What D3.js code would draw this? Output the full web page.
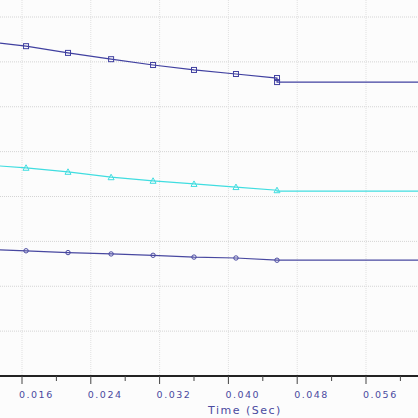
<!DOCTYPE html><html><head><script src="https://cdn.jsdelivr.net/npm/d3@7"></script>
<style>body{margin:0;background:#fcfcfc}</style></head><body><svg width="418" height="418"></svg><script>
const times=[0.01344,0.01647,0.02135,0.02636,0.03124,0.03600,0.04088,0.04565,0.04566,0.0625];
const squareVals=[7.42,7.35,7.20,7.06,6.93,6.82,6.73,6.64,6.55,6.55];
const triangleVals=[4.68,4.64,4.55,4.43,4.35,4.28,4.21,4.14,4.12,4.12];
const circleVals=[2.81,2.79,2.75,2.72,2.69,2.65,2.63,2.58,2.58,2.58];
const tickLabels=["0.016","0.024","0.032","0.040","0.048","0.056"];
const svg=d3.select("svg");
const x=d3.scaleLinear().domain([0.016,0.056]).range([22,366]);
const y=d3.scaleLinear().domain([0,8]).range([376,17]);
svg.append("rect").attr("width",418).attr("height",418).attr("fill","#fcfcfc");
const g=svg.append("g");
d3.range(1,9).forEach(v=>g.append("line").attr("x1",0).attr("x2",418).attr("y1",y(v)).attr("y2",y(v)).attr("stroke","#d4d4d4").attr("stroke-dasharray","1,1"));
tickLabels.forEach(l=>g.append("line").attr("x1",x(+l)).attr("x2",x(+l)).attr("y1",0).attr("y2",376).attr("stroke","#e0e0e0").attr("stroke-dasharray","1,1"));
const allTicks=d3.range(0.012,0.0621,0.004);
const ax=svg.append("g").attr("transform","translate(0,376)");
ax.append("line").attr("x1",0).attr("x2",418).attr("stroke","#222").attr("stroke-width",2);
allTicks.forEach(t=>ax.append("line").attr("x1",x(t)).attr("x2",x(t)).attr("y1",0).attr("y2",tickLabels.includes(t.toFixed(3))?8:5).attr("stroke","#444"));
tickLabels.forEach(l=>ax.append("text").attr("x",x(+l)-3).attr("y",22).attr("font-family","DejaVu Sans").attr("font-size",9.5).attr("fill","#4a4aa0").attr("letter-spacing","1.5").text(l));
svg.append("text").attr("x",208).attr("y",414).attr("font-family","DejaVu Sans").attr("font-size",11).attr("fill","#4a4aa0").attr("letter-spacing","1.5").text("Time (Sec)");
const line=d3.line().x((d,i)=>x(times[i])).y(d=>y(d));
const series=[[squareVals,"#4040a0","s"],[triangleVals,"#40dde0","t"],[circleVals,"#4848a0","c"]];
series.forEach(([vals,col,m])=>{
  svg.append("path").attr("d",line(vals)).attr("fill","none").attr("stroke",col).attr("stroke-width",1.2);
  const idx=m==="s"?[1,2,3,4,5,6,7,8]:[1,2,3,4,5,6,7];
  idx.forEach(i=>{const cx=x(times[i]),cy=y(vals[i]);
    if(m==="s")svg.append("rect").attr("x",cx-2.5).attr("y",cy-2.5).attr("width",5).attr("height",5).attr("fill","none").attr("stroke",col);
    else if(m==="t")svg.append("path").attr("d",`M${cx},${cy-3}L${cx+3},${cy+2.5}L${cx-3},${cy+2.5}Z`).attr("fill","none").attr("stroke",col);
    else svg.append("circle").attr("cx",cx).attr("cy",cy).attr("r",2.2).attr("fill","none").attr("stroke",col);});
});
</script></body></html>
